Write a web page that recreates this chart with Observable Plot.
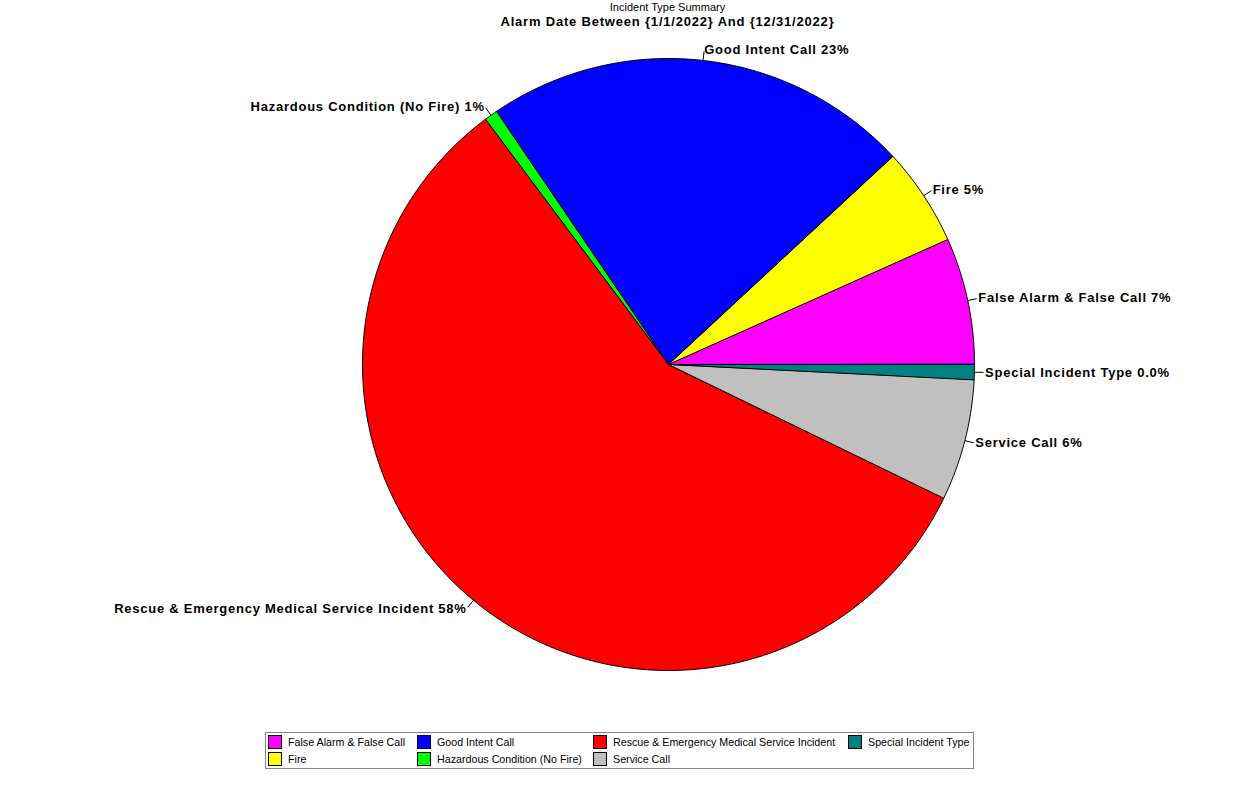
<!DOCTYPE html>
<html>
<head>
<meta charset="utf-8">
<script src="https://cdn.jsdelivr.net/npm/d3@7"></script>
<script src="https://cdn.jsdelivr.net/npm/@observablehq/plot@0.6"></script>
<style>
  html, body { margin: 0; padding: 0; background: #fff; }
  #wrap { position: relative; width: 1253px; height: 792px; font-family: "Liberation Sans", Arial, sans-serif; }
  .t1 { position: absolute; left: 0; width: 1335px; top: 0; height: 14px; line-height: 14px; text-align: center; font-size: 11px; color: #000; }
  .t2 { position: absolute; left: 0; width: 1335px; top: 14px; height: 16px; line-height: 16px; text-align: center; font-size: 13px; font-weight: bold; letter-spacing: 0.8px; color: #000; }
  #chart { position: absolute; left: 0; top: 30px; }
  #legend { position: absolute; left: 265px; top: 732px; width: 707px; height: 35px; border: 1px solid #8080a0; background: #fff; }
  .item { position: absolute; height: 14px; font-size: 10.7px; line-height: 14px; color: #000; white-space: nowrap; }
  .sw { position: absolute; left: 0; top: 0; width: 12px; height: 12px; border: 1px solid #000; }
  .lb { position: absolute; left: 20px; top: 0; }
</style>
</head>
<body>
<div id="wrap">
  <div class="t1">Incident Type Summary</div>
  <div class="t2">Alarm Date Between {1/1/2022} And {12/31/2022}</div>
  <div id="chart"></div>
  <div id="legend"></div>
</div>
<script>
// Data (pie order, counterclockwise from 3 o'clock)
const categories = [
  "False Alarm & False Call",
  "Fire",
  "Good Intent Call",
  "Hazardous Condition (No Fire)",
  "Rescue & Emergency Medical Service Incident",
  "Service Call",
  "Special Incident Type"
];
const shares = [6.7, 5.2, 22.6, 0.7, 57.6, 6.4, 0.8];
const pctLabels = ["7%", "5%", "23%", "1%", "58%", "6%", "0.0%"];
const colors = ["#ff00ff", "#ffff00", "#0000ff", "#00ff00", "#ff0000", "#c0c0c0", "#008080"];

// Legend layout order (rows x columns as in the reference)
const legendOrder = [
  "False Alarm & False Call", "Good Intent Call", "Rescue & Emergency Medical Service Incident", "Special Incident Type",
  "Fire", "Hazardous Condition (No Fire)", "Service Call"
];

// Build slice geometry from the shares via d3.pie
const pie = d3.pie().sort(null).value(d => d).startAngle(0).endAngle(2 * Math.PI);
const arcs = pie(shares);
const polys = [];
const mids = [];
arcs.forEach((a, i) => {
  const name = categories[i];
  const a0 = a.startAngle, a1 = a.endAngle;
  polys.push({name, x: 0, y: 0});
  const n = Math.max(2, Math.ceil((a1 - a0) / (Math.PI / 360)));
  for (let k = 0; k <= n; k++) {
    const t = a0 + (a1 - a0) * k / n;
    polys.push({name, x: Math.cos(t), y: Math.sin(t)});
  }
  const m = (a0 + a1) / 2;
  mids.push({
    name,
    label: name + " " + pctLabels[i],
    x1: Math.cos(m), y1: Math.sin(m),
    x2: 1.03 * Math.cos(m), y2: 1.03 * Math.sin(m),
    tx: 1.035 * Math.cos(m), ty: 1.035 * Math.sin(m),
    right: Math.cos(m) >= 0
  });
});

const cx = 668, cy = 334, r = 306;
const labelStyle = {fontSize: 13, fontWeight: "bold", fill: "#000", lineAnchor: "middle"};
const chart = Plot.plot({
  width: 1253,
  height: 700,
  margin: 0,
  x: {domain: [-1, 1], range: [cx - r, cx + r], axis: null},
  y: {domain: [-1, 1], range: [cy + r, cy - r], axis: null},
  color: {domain: categories, range: colors},
  style: {background: "#fff", fontFamily: "'Liberation Sans', Arial, sans-serif", letterSpacing: "0.75px"},
  marks: [
    Plot.line(polys, {x: "x", y: "y", z: "name", fill: "name", stroke: "#000", strokeWidth: 1, curve: "linear-closed"}),
    Plot.link(mids, {x1: "x1", y1: "y1", x2: "x2", y2: "y2", stroke: "#000", strokeWidth: 1}),
    Plot.text(mids.filter(d => d.right), {x: "tx", y: "ty", text: "label", textAnchor: "start", ...labelStyle}),
    Plot.text(mids.filter(d => !d.right), {x: "tx", y: "ty", text: "label", textAnchor: "end", ...labelStyle})
  ]
});
document.getElementById("chart").appendChild(chart);

// Legend
const colX = [2, 151, 327, 582];
const rowY = [2, 19];
const legend = document.getElementById("legend");
legendOrder.forEach((name, j) => {
  const col = j < 4 ? j : j - 4;
  const row = j < 4 ? 0 : 1;
  const it = document.createElement("div");
  it.className = "item";
  it.style.left = colX[col] + "px";
  it.style.top = rowY[row] + "px";
  const sw = document.createElement("div");
  sw.className = "sw";
  sw.style.background = colors[categories.indexOf(name)];
  const lb = document.createElement("div");
  lb.className = "lb";
  lb.textContent = name;
  it.appendChild(sw);
  it.appendChild(lb);
  legend.appendChild(it);
});
</script>
</body>
</html>
